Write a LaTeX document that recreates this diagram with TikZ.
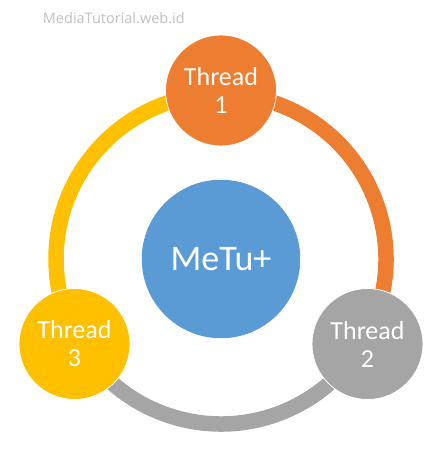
\documentclass[tikz,border=0pt]{standalone}
\usepackage{fontspec}
\setmainfont{Carlito}
\newfontfamily\wmfont{Open Sans}
\definecolor{orng}{HTML}{ED7D31}
\definecolor{gry}{HTML}{A5A5A5}
\definecolor{ylw}{HTML}{FFC000}
\definecolor{blu}{HTML}{5B9BD5}
\definecolor{wmgray}{HTML}{BFBFBF}
\begin{document}
\begin{tikzpicture}[x=1pt,y=1pt,
  ringarc/.style={line width=15.5pt},
  thread/.style={circle, minimum size=111pt, inner sep=0pt, draw=white, line width=0.8pt,
     text=white, align=center, font=\fontsize{26}{28}\selectfont},
  hub/.style={circle, minimum size=158.5pt, inner sep=0pt, fill=blu,
     text=white, font=\fontsize{36}{40}\selectfont}]
\useasboundingbox (0,0) rectangle (443,456);
\coordinate (C) at (221,197);
\coordinate (a1) at ([shift={(90:165)}]C);
\coordinate (a2) at ([shift={(-30:165)}]C);
\coordinate (a3) at ([shift={(210:165)}]C);
% ring arcs
\draw[ringarc, ylw] (a1) arc[start angle=90, end angle=210, radius=165];
\draw[ringarc, orng] (a2) arc[start angle=-30, end angle=90, radius=165];
\draw[ringarc, gry] (a3) arc[start angle=210, end angle=330, radius=165];
% hub
\node[hub] (hub) at (C) {MeTu+};
% threads
\node[thread, fill=orng] (t1) at (221,365.5) {Thread\\1};
\node[thread, fill=gry] (t2) at (367.5,112) {Thread\\2};
\node[thread, fill=ylw] (t3) at (74.5,112) {Thread\\3};
% watermark
\node[anchor=base west, inner sep=0pt, text=wmgray, font=\wmfont\fontsize{14.5}{16}\selectfont] (wm) at (42.7,432) {MediaTutorial.web.id};
\end{tikzpicture}
\end{document}
